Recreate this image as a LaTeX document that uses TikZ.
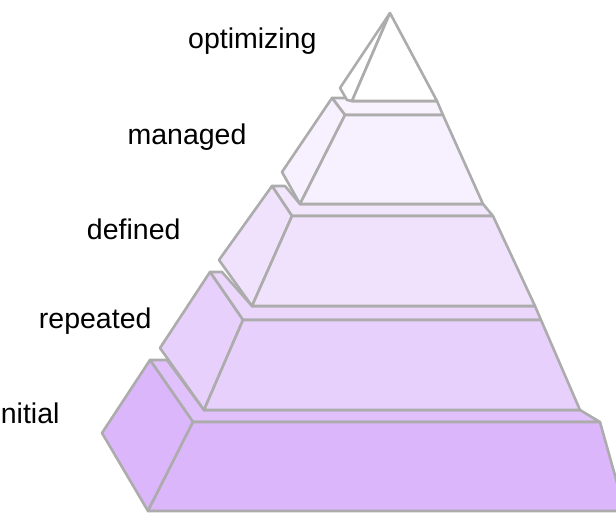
\documentclass[tikz,border=0pt]{standalone}
\usepackage{fontspec}
\setmainfont{Liberation Sans}
\begin{document}
\begin{tikzpicture}[
						x=1pt, y=-1pt,
						face/.style = {draw=gray!65, line width=2.6pt, line join=round},
						lbl/.style = {font=\fontsize{28.5}{31}\selectfont, anchor=east}
					]
\useasboundingbox (0,0) rectangle (616,528);
\definecolor{lvA}{RGB}{220,182,250}
\definecolor{lvB}{RGB}{232,208,252}
\definecolor{lvC}{RGB}{240,226,253}
\definecolor{lvD}{RGB}{247,240,254}
\definecolor{lvE}{RGB}{255,255,255}

% initial
\draw[face, fill=lvA!85] (150,360) -- (167,360) -- (204,410) -- (580,410) -- (600,422) -- (193,422) -- cycle;
\draw[face, fill=lvA] (102,433) -- (150,360) -- (193,422) -- (148,511) -- cycle;
\draw[face, fill=lvA] (148,511) -- (193,422) -- (600,422) -- (625,511) -- cycle;
% repeated
\draw[face, fill=lvB!85] (210,272) -- (222,272) -- (252,306) -- (535,306) -- (541,320) -- (243,320) -- cycle;
\draw[face, fill=lvB] (160,348) -- (210,272) -- (243,320) -- (204,410) -- cycle;
\draw[face, fill=lvB] (204,410) -- (243,320) -- (541,320) -- (580,410) -- cycle;
% defined
\draw[face, fill=lvC!85] (272,186) -- (285,186) -- (300,204) -- (483,204) -- (493,216) -- (292,216) -- cycle;
\draw[face, fill=lvC] (219,260) -- (272,186) -- (292,216) -- (252,306) -- cycle;
\draw[face, fill=lvC] (252,306) -- (292,216) -- (493,216) -- (535,306) -- cycle;
% managed
\draw[face, fill=lvD!85] (332,98) -- (349,98) -- (352,101) -- (437,101) -- (443,115) -- (345,115) -- cycle;
\draw[face, fill=lvD] (282,172) -- (332,98) -- (345,115) -- (300,204) -- cycle;
\draw[face, fill=lvD] (300,204) -- (345,115) -- (443,115) -- (483,204) -- cycle;
% optimizing
\draw[face, fill=lvE] (340,88) -- (390,13) -- (352,101) -- (347,100) -- cycle;
\draw[face, fill=lvE] (352,101) -- (390,13) -- (437,101) -- cycle;

\node[lbl] (opt) at (320,41) {optimizing};
\node[lbl] (man) at (250,137) {managed};
\node[lbl] (def) at (184,229) {defined};
\node[lbl] (rep) at (155,321) {repeated};
\node[lbl] (ini) at (63,413) {initial};
\end{tikzpicture}
\end{document}
